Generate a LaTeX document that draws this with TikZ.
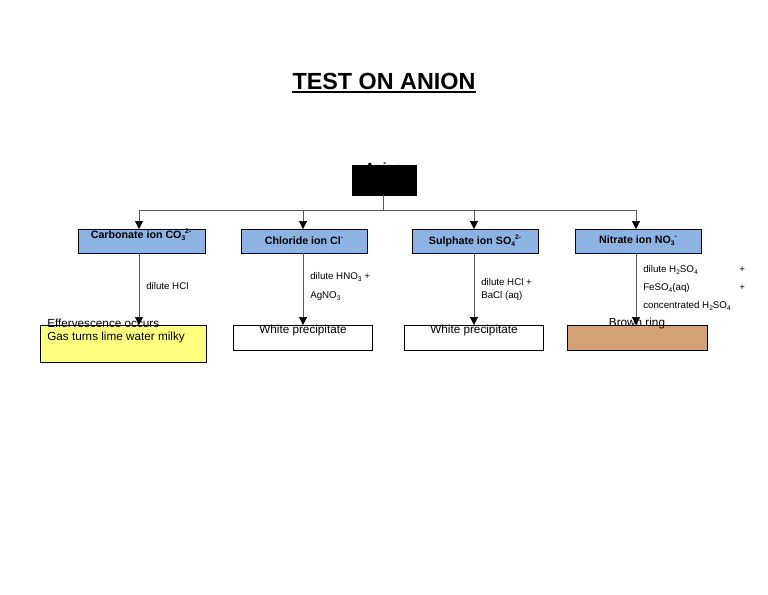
\documentclass[tikz,border=0pt]{standalone}
\usepackage{fontspec}
\setmainfont{Liberation Sans}
\definecolor{ionblue}{RGB}{141,179,226}
\definecolor{limeyellow}{RGB}{255,255,128}
\definecolor{ringbrown}{RGB}{210,162,118}
\newcommand{\sbs}[1]{\raisebox{-0.4ex}{\tiny #1}}
\newcommand{\sps}[1]{\raisebox{0.9ex}{\tiny #1}}
\tikzset{
  ionbox/.style={draw,fill=ionblue,inner sep=0pt},
  ionlabel/.style={inner sep=0pt,font={\fontsize{8}{9}\selectfont\bfseries}},
  resbox/.style={draw,inner sep=0pt},
  reagent/.style={anchor=west,inner sep=0pt,font={\fontsize{7.3}{8}\selectfont}},
  result/.style={inner sep=0pt,font={\fontsize{8.8}{10}\selectfont}},
  flow/.style={draw=gray!70!black,-{Triangle[black,length=6pt,width=6pt]}},
}
\usetikzlibrary{arrows.meta}
\begin{document}
\begin{tikzpicture}[x=0.75pt,y=-0.75pt]
\useasboundingbox (0,0) rectangle (768,594);
\node[inner sep=0pt] (title) at (384,81) {\fontsize{17.5}{20}\selectfont\bfseries TEST ON ANION};
\draw[line width=1.2pt] (title.south west) ++(0,-2pt) -- ([yshift=-2pt]title.south east);

% top box
\path[draw,fill=black] (352,165) rectangle (416,195);
\node (anion) at (384,168) {\fontsize{10}{11}\selectfont\bfseries Anion};
\coordinate (top) at (383,195);
\coordinate (bar) at (383,210);
\draw[gray!70!black] (top) -- (bar);
\draw[gray!70!black] (139,210) -- (636,210);

% ion boxes
\path[ionbox] (78,229) rectangle (205,253);
\node[ionlabel] (co3) at (141,235) {Carbonate ion CO\sbs{3}\sps{2-}};
\path[ionbox] (241,229) rectangle (367,253);
\node[ionlabel] (cl) at (304,241) {Chloride ion Cl\sps{-}};
\path[ionbox] (412,229) rectangle (538,253);
\node[ionlabel] (so4) at (475,241) {Sulphate ion SO\sbs{4}\sps{2-}};
\path[ionbox] (575,229) rectangle (701,253);
\node[ionlabel] (no3) at (638,241) {Nitrate ion NO\sbs{3}\sps{-}};

\foreach \x in {139,303,474,636}
  \draw[flow] (\x,210) -- (\x,229);

% result boxes
\path[resbox,fill=limeyellow] (40,325) rectangle (206,362);
\path[resbox,fill=white] (233,325) rectangle (372,350);
\path[resbox,fill=white] (404,325) rectangle (543,350);
\path[resbox,fill=ringbrown] (567,325) rectangle (707,350);

\foreach \x in {139,303,474,636}
  \draw[flow] (\x,253) -- (\x,325);

% reagents
\node[reagent] (r1) at (146,286) {dilute HCl};
\node[reagent] (r2a) at (310,277) {dilute HNO\sbs{3} +};
\node[reagent] (r2b) at (310,296) {AgNO\sbs{3}};
\node[reagent] (r3a) at (481,282) {dilute HCl +};
\node[reagent] (r3b) at (481,296) {BaCl (aq)};
\node[reagent] (r4a) at (643,270) {dilute H\sbs{2}SO\sbs{4}};
\node[reagent] (r4b) at (643,288) {FeSO\sbs{4}(aq)};
\node[reagent] (r4c) at (643,306) {concentrated H\sbs{2}SO\sbs{4}};
\node[reagent] (p1) at (739,270) {+};
\node[reagent] (p2) at (739,288) {+};

% results
\node[result,anchor=west] (e1) at (47,323) {Effervescence  occurs};
\node[result,anchor=west] (e2) at (47,337) {Gas turns lime water milky};
\node[result] (w1) at (303,330) {White precipitate};
\node[result] (w2) at (474,330) {White precipitate};
\node[result] (b1) at (637,323) {Brown ring};
\end{tikzpicture}
\end{document}
